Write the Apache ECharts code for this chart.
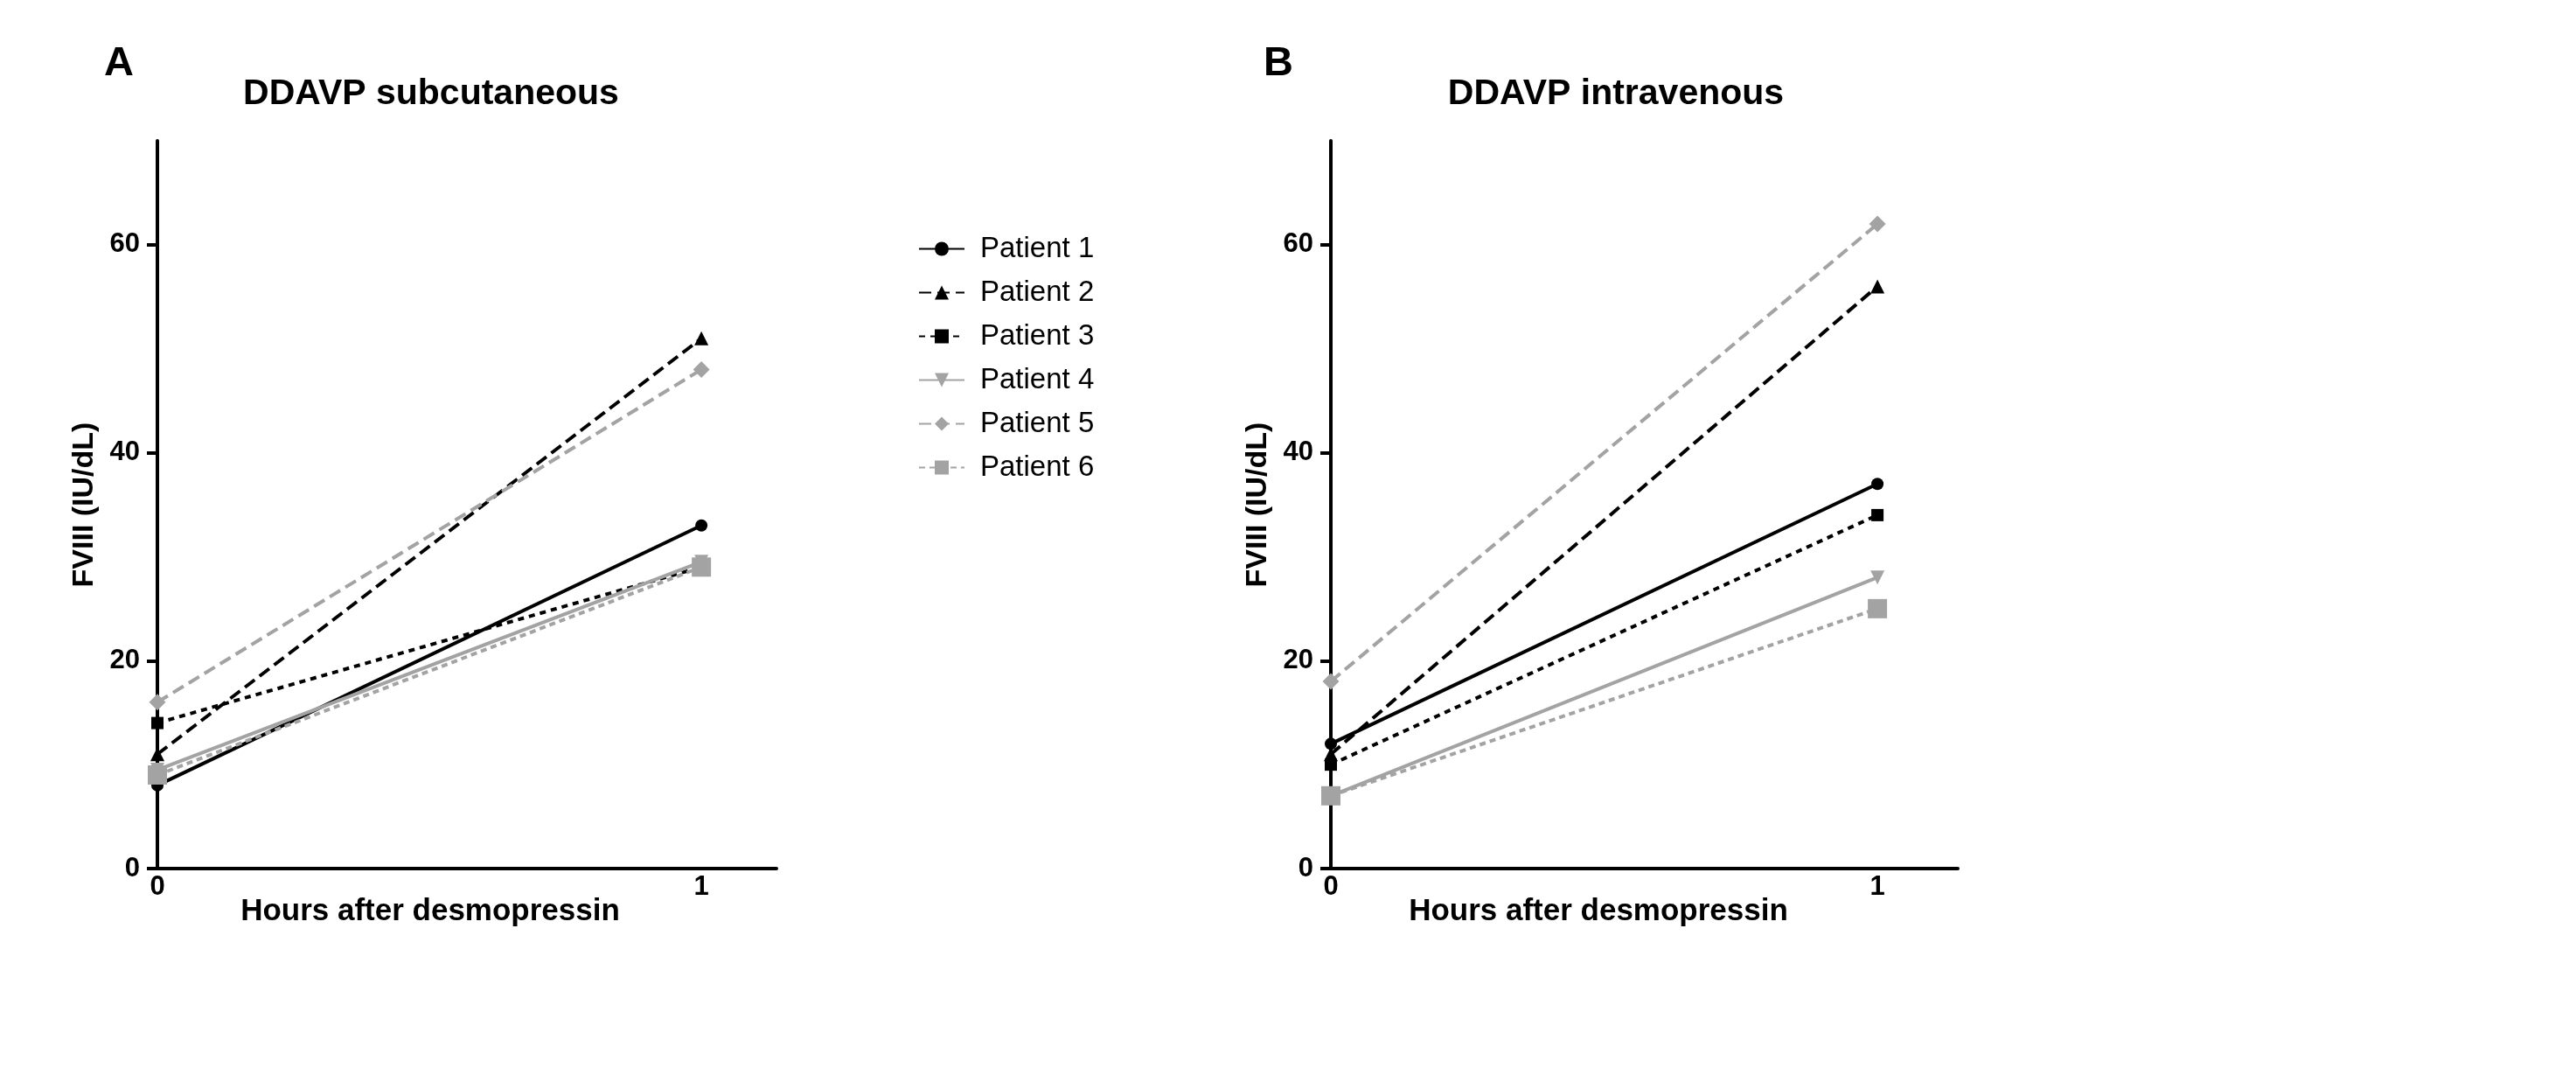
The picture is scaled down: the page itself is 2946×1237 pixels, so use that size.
<!DOCTYPE html>
<html>
<head>
<meta charset="utf-8">
<script src="https://cdn.jsdelivr.net/npm/echarts@6/dist/echarts.min.js"></script>
<style>
  html, body { margin: 0; padding: 0; background: #fff; }
  #chart { width: 2946px; height: 1237px; }
</style>
</head>
<body>
<div id="chart"></div>
<script>
// hours after desmopressin
const hours = [0, 1]
const patients = ['Patient 1', 'Patient 2', 'Patient 3', 'Patient 4', 'Patient 5', 'Patient 6']
const panelTitles = ['DDAVP subcutaneous', 'DDAVP intravenous']
const yTicks = [0, 20, 40, 60]
const xTicks = [0, 1]

// FVIII (IU/dL) at 0 h and 1 h
const subcutaneous = [
  [8, 33],
  [11, 51],
  [14, 29],
  [9.5, 29.5],
  [16, 48],
  [9, 29]
]
const intravenous = [
  [12, 37],
  [11, 56],
  [10, 34],
  [7, 28],
  [18, 62],
  [7, 25]
]

const FONT = '"Liberation Sans", Arial, sans-serif'
const GRAY = '#a3a3a3'

// look of each patient line
const styles = [
  { color: '#000', type: 'solid', symbol: 'circle', size: 14, rotate: 0 },
  { color: '#000', type: [14, 7], symbol: 'triangle', size: 16, rotate: 0 },
  { color: '#000', type: [7, 6], symbol: 'rect', size: 14, rotate: 0 },
  { color: GRAY, type: 'solid', symbol: 'triangle', size: 16, rotate: 180 },
  { color: GRAY, type: [14, 7], symbol: 'diamond', size: 19, rotate: 0 },
  { color: GRAY, type: [7, 5], symbol: 'rect', size: 22, rotate: 0 }
]

const chart = echarts.init(document.getElementById('chart'))

function makeSeries(values, idx) {
  return values.map((v, i) => ({
    name: patients[i],
    type: 'line',
    xAxisIndex: idx,
    yAxisIndex: idx,
    data: hours.map((h, j) => [h, v[j]]),
    symbol: styles[i].symbol,
    symbolSize: styles[i].size,
    symbolRotate: styles[i].rotate,
    clip: false,
    animation: false,
    lineStyle: { color: styles[i].color, width: 4, type: styles[i].type },
    itemStyle: { color: styles[i].color }
  }))
}

function xAxis(idx, max) {
  return {
    type: 'value',
    gridIndex: idx,
    min: 0,
    max: max,
    splitLine: { show: false },
    axisLine: { lineStyle: { color: '#000', width: 4 } },
    axisTick: { show: false },
    axisLabel: {
      customValues: xTicks,
      color: '#000', fontFamily: FONT, fontWeight: 'bold', fontSize: 31, margin: 6
    }
  }
}

function yAxis(idx) {
  return {
    type: 'value',
    gridIndex: idx,
    min: 0,
    max: 70,
    name: 'FVIII (IU/dL)',
    nameLocation: 'middle',
    nameRotate: 90,
    nameGap: 66,
    nameTextStyle: { color: '#000', fontFamily: FONT, fontWeight: 'bold', fontSize: 34 },
    splitLine: { show: false },
    axisLine: { show: true, lineStyle: { color: '#000', width: 4 } },
    axisTick: { show: true, customValues: yTicks, length: 12, lineStyle: { color: '#000', width: 4 } },
    axisLabel: {
      customValues: yTicks,
      color: '#000', fontFamily: FONT, fontWeight: 'bold', fontSize: 31, margin: 20
    }
  }
}

const boldText = (size) => ({ color: '#000', fontFamily: FONT, fontWeight: 'bold', fontSize: size })

chart.setOption({
  backgroundColor: '#fff',
  animation: false,
  title: [
    { text: 'A', left: 114, top: 45, textStyle: boldText(47) },
    { text: 'B', left: 1440, top: 45, textStyle: boldText(47) },
    { text: panelTitles[0], left: 488, top: 82, textAlign: 'center', textStyle: boldText(41) },
    { text: panelTitles[1], left: 1843, top: 82, textAlign: 'center', textStyle: boldText(41) },
    { text: 'Hours after desmopressin', left: 487, top: 1020, textAlign: 'center', textStyle: boldText(35) },
    { text: 'Hours after desmopressin', left: 1823, top: 1020, textAlign: 'center', textStyle: boldText(35) }
  ],
  legend: {
    data: patients,
    orient: 'vertical',
    left: 1045,
    top: 263,
    itemWidth: 52,
    itemHeight: 20,
    itemGap: 17,
    textStyle: { color: '#000', fontFamily: FONT, fontSize: 33, padding: [0, 0, 0, 13] },
    selectedMode: false
  },
  grid: [
    { left: 180, top: 161, width: 708, height: 832 },
    { left: 1522, top: 161, width: 717, height: 832 }
  ],
  xAxis: [xAxis(0, 1.138), xAxis(1, 1.147)],
  yAxis: [yAxis(0), yAxis(1)],
  series: [...makeSeries(subcutaneous, 0), ...makeSeries(intravenous, 1)]
})
</script>
</body>
</html>
